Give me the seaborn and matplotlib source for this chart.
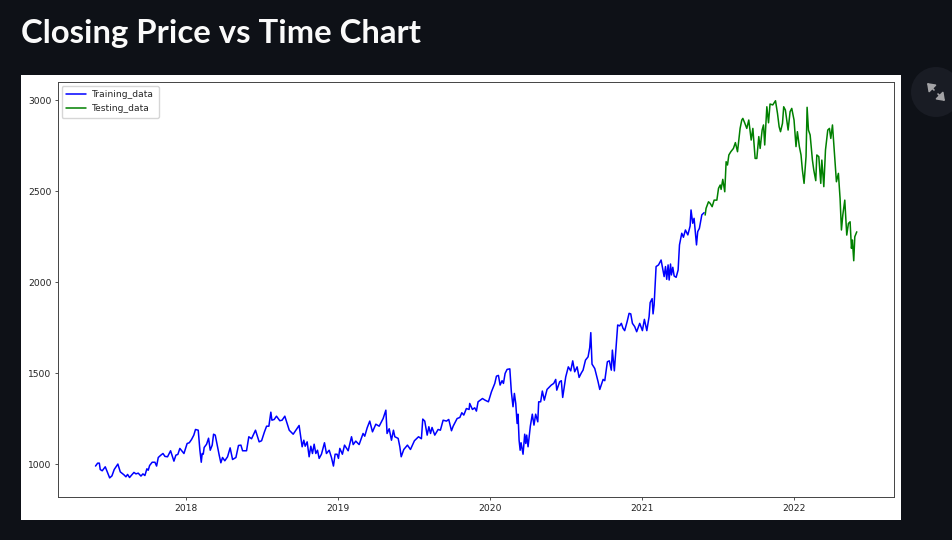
import matplotlib
matplotlib.use("Agg")
import matplotlib.pyplot as plt
import matplotlib.dates as mdates
from matplotlib.patches import Ellipse, FancyArrowPatch, Rectangle
import pandas as pd
import seaborn as sns

# values, dates as fractional years
train_years = [
    2017.405, 2017.419, 2017.43, 2017.436, 2017.449, 2017.469, 2017.482, 2017.498, 2017.513, 2017.528,
    2017.552, 2017.568, 2017.592, 2017.605, 2017.616, 2017.629, 2017.642, 2017.658, 2017.671, 2017.686,
    2017.704, 2017.717, 2017.73, 2017.743, 2017.752, 2017.761, 2017.778, 2017.796, 2017.807, 2017.818,
    2017.835, 2017.849, 2017.862, 2017.879, 2017.899, 2017.921, 2017.934, 2017.947, 2017.96, 2017.987,
    2018.008, 2018.022, 2018.037, 2018.052, 2018.063, 2018.081, 2018.092, 2018.101, 2018.107, 2018.114,
    2018.12, 2018.136, 2018.149, 2018.16, 2018.173, 2018.182, 2018.193, 2018.208, 2018.219, 2018.23,
    2018.241, 2018.256, 2018.274, 2018.291, 2018.307, 2018.329, 2018.346, 2018.362, 2018.373, 2018.399,
    2018.414, 2018.432, 2018.458, 2018.482, 2018.498, 2018.517, 2018.531, 2018.546, 2018.559, 2018.566,
    2018.581, 2018.596, 2018.618, 2018.633, 2018.651, 2018.68, 2018.706, 2018.745, 2018.765, 2018.776,
    2018.785, 2018.798, 2018.811, 2018.822, 2018.833, 2018.844, 2018.855, 2018.866, 2018.877, 2018.892,
    2018.912, 2018.925, 2018.943, 2018.958, 2018.971, 2018.982, 2018.995, 2019.004, 2019.013, 2019.03,
    2019.044, 2019.068, 2019.09, 2019.101, 2019.118, 2019.14, 2019.166, 2019.177, 2019.193, 2019.21,
    2019.228, 2019.25, 2019.272, 2019.298, 2019.316, 2019.324, 2019.338, 2019.353, 2019.366, 2019.375,
    2019.397, 2019.408, 2019.417, 2019.434, 2019.458, 2019.478, 2019.504, 2019.531, 2019.55, 2019.559,
    2019.572, 2019.588, 2019.599, 2019.61, 2019.62, 2019.638, 2019.66, 2019.675, 2019.693, 2019.715,
    2019.73, 2019.748, 2019.759, 2019.785, 2019.803, 2019.816, 2019.829, 2019.846, 2019.864, 2019.868,
    2019.886, 2019.901, 2019.912, 2019.923, 2019.952, 2019.969, 2019.991, 2020.011, 2020.033, 2020.044,
    2020.057, 2020.068, 2020.081, 2020.09, 2020.101, 2020.114, 2020.132, 2020.142, 2020.153, 2020.162,
    2020.171, 2020.18, 2020.186, 2020.193, 2020.2, 2020.206, 2020.219, 2020.23, 2020.237, 2020.243,
    2020.252, 2020.267, 2020.28, 2020.291, 2020.302, 2020.316, 2020.322, 2020.335, 2020.346, 2020.359,
    2020.377, 2020.405, 2020.421, 2020.434, 2020.441, 2020.46, 2020.471, 2020.48, 2020.5, 2020.517,
    2020.533, 2020.546, 2020.559, 2020.575, 2020.588, 2020.603, 2020.614, 2020.63, 2020.647, 2020.658,
    2020.665, 2020.673, 2020.691, 2020.713, 2020.724, 2020.746, 2020.757, 2020.774, 2020.787, 2020.8,
    2020.807, 2020.82, 2020.829, 2020.842, 2020.855, 2020.866, 2020.877, 2020.888, 2020.904, 2020.917,
    2020.928, 2020.939, 2020.954, 2020.967, 2020.987, 2021.002, 2021.015, 2021.031, 2021.046, 2021.053,
    2021.066, 2021.072, 2021.079, 2021.092, 2021.108, 2021.125, 2021.145, 2021.154, 2021.162, 2021.171,
    2021.178, 2021.187, 2021.193, 2021.202, 2021.211, 2021.224, 2021.237, 2021.246, 2021.261, 2021.272,
    2021.285, 2021.301, 2021.316, 2021.322, 2021.333, 2021.342, 2021.358, 2021.366, 2021.377, 2021.393,
    2021.408,
]
train_close = [
    989, 1005, 1005, 970, 963, 985, 957, 924, 935, 970,
    1000, 957, 941, 930, 943, 926, 939, 954, 946, 950,
    934, 946, 937, 974, 966, 992, 1010, 1010, 989, 1036,
    1049, 1058, 1042, 1040, 1073, 1016, 1049, 1053, 1086, 1058,
    1113, 1117, 1135, 1159, 1190, 1186, 1076, 1010, 1058, 1054,
    1091, 1109, 1142, 1076, 1104, 1164, 1159, 1095, 1049, 1007,
    1036, 1018, 1040, 1089, 1025, 1036, 1102, 1104, 1073, 1073,
    1150, 1139, 1186, 1122, 1128, 1177, 1208, 1208, 1285, 1241,
    1245, 1263, 1238, 1241, 1263, 1186, 1164, 1212, 1095, 1131,
    1098, 1122, 1040, 1098, 1058, 1109, 1058, 1076, 1031, 1054,
    1117, 1058, 1076, 1036, 989, 1054, 1054, 1031, 1086, 1054,
    1104, 1073, 1150, 1107, 1126, 1107, 1168, 1153, 1199, 1236,
    1177, 1219, 1208, 1250, 1296, 1168, 1194, 1131, 1186, 1150,
    1141, 1095, 1040, 1080, 1104, 1080, 1128, 1150, 1139, 1247,
    1236, 1159, 1205, 1168, 1201, 1159, 1190, 1186, 1241, 1236,
    1245, 1183, 1208, 1250, 1256, 1282, 1269, 1305, 1300, 1333,
    1300, 1309, 1291, 1342, 1360, 1351, 1342, 1397, 1443, 1483,
    1487, 1434, 1458, 1443, 1498, 1520, 1523, 1397, 1315, 1388,
    1333, 1223, 1274, 1131, 1076, 1117, 1054, 1164, 1113, 1159,
    1095, 1208, 1274, 1214, 1274, 1232, 1342, 1342, 1401, 1351,
    1410, 1434, 1443, 1465, 1406, 1452, 1458, 1366, 1479, 1534,
    1512, 1567, 1507, 1534, 1476, 1501, 1516, 1571, 1589, 1640,
    1722, 1549, 1525, 1452, 1410, 1465, 1458, 1562, 1567, 1516,
    1626, 1512, 1617, 1764, 1759, 1773, 1746, 1733, 1782, 1828,
    1825, 1773, 1755, 1727, 1773, 1733, 1795, 1733, 1810, 1887,
    1909, 1825, 1874, 2085, 2094, 2121, 2030, 2085, 2015, 2094,
    2011, 2099, 2039, 2081, 2033, 2026, 2066, 2204, 2268, 2246,
    2286, 2259, 2308, 2396, 2323, 2350, 2204, 2277, 2295, 2369,
    2381,
]
test_years = [
    2021.415, 2021.421, 2021.437, 2021.448, 2021.461, 2021.474, 2021.492, 2021.503, 2021.514, 2021.52,
    2021.531, 2021.544, 2021.553, 2021.562, 2021.571, 2021.584, 2021.601, 2021.614, 2021.628, 2021.645,
    2021.656, 2021.663, 2021.674, 2021.689, 2021.702, 2021.718, 2021.729, 2021.744, 2021.755, 2021.768,
    2021.777, 2021.79, 2021.799, 2021.807, 2021.821, 2021.832, 2021.842, 2021.86, 2021.878, 2021.891,
    2021.902, 2021.911, 2021.924, 2021.932, 2021.943, 2021.961, 2021.974, 2021.985, 2022.0, 2022.013,
    2022.022, 2022.035, 2022.046, 2022.055, 2022.066, 2022.079, 2022.086, 2022.095, 2022.106, 2022.121,
    2022.13, 2022.143, 2022.15, 2022.163, 2022.176, 2022.183, 2022.196, 2022.207, 2022.222, 2022.233,
    2022.242, 2022.253, 2022.266, 2022.279, 2022.292, 2022.303, 2022.312, 2022.321, 2022.334, 2022.347,
    2022.358, 2022.369, 2022.378, 2022.384, 2022.393, 2022.4, 2022.413,
]
test_close = [
    2368, 2405, 2441, 2432, 2414, 2450, 2450, 2515, 2533, 2509,
    2564, 2496, 2661, 2643, 2698, 2716, 2734, 2766, 2716, 2844,
    2890, 2899, 2877, 2844, 2890, 2780, 2844, 2679, 2679, 2799,
    2734, 2835, 2863, 2753, 2963, 2875, 2978, 2973, 2996, 2927,
    2853, 2826, 2872, 2963, 2945, 2835, 2936, 2954, 2890, 2744,
    2826, 2744, 2698, 2615, 2542, 2689, 2960, 2835, 2808, 2670,
    2615, 2557, 2698, 2689, 2542, 2670, 2524, 2725, 2835, 2844,
    2789, 2863, 2707, 2551, 2597, 2460, 2286, 2368, 2450, 2258,
    2322, 2331, 2185, 2231, 2117, 2249, 2276,
]
legend_labels = ["Training_data", "Testing_data"]
title_text = "Closing Price vs Time Chart"

PAGE_W, PAGE_H = 952, 540


def to_dates(years):
    # fractional year -> timestamp
    return [pd.Timestamp(year=int(y), month=1, day=1) + pd.Timedelta(days=(y - int(y)) * 365) for y in years]


def box(x0, y0, x1, y1):
    # pixel box (top-left origin) -> figure fractions for add_axes / Rectangle
    return [x0 / PAGE_W, 1 - y1 / PAGE_H, (x1 - x0) / PAGE_W, (y1 - y0) / PAGE_H]


sns.set_style("white")
plt.rcParams["font.family"] = ["DejaVu Sans"]

fig = plt.figure(figsize=(PAGE_W / 100, PAGE_H / 100), dpi=100, facecolor="#0e1117")

# white card the chart sits on, behind the axes
l, b, w, h = box(21, 75, 901, 520)
fig.add_artist(Rectangle((l, b), w, h, transform=fig.transFigure, facecolor="white", edgecolor="none", zorder=-1))

# expand button
fig.add_artist(Ellipse((936 / PAGE_W, 1 - 92 / PAGE_H), 50 / PAGE_W, 50 / PAGE_H,
                       transform=fig.transFigure, facecolor="#191c24", edgecolor="none", zorder=-1))
for tip, tail in [((927, 83), (934, 90)), ((945, 101), (938, 94))]:
    fig.add_artist(FancyArrowPatch((tail[0] / PAGE_W, 1 - tail[1] / PAGE_H), (tip[0] / PAGE_W, 1 - tip[1] / PAGE_H),
                                   transform=fig.transFigure, arrowstyle="-|>,head_length=0.55,head_width=0.4",
                                   color="#a3a3a6", lw=1.2, mutation_scale=8, shrinkA=0, shrinkB=0))

fig.text(21 / PAGE_W, 1 - 33 / PAGE_H, title_text, color="#fafafa", fontsize=23.7, fontweight="bold",
         family=["Lato", "DejaVu Sans"], va="center", ha="left")

ax = fig.add_axes(box(58, 82, 894, 497))
ax.set_facecolor("white")

train_df = pd.DataFrame({"date": to_dates(train_years), "close": train_close})
test_df = pd.DataFrame({"date": to_dates(test_years), "close": test_close})

sns.lineplot(data=train_df, x="date", y="close", color="blue", linewidth=1.1, estimator=None,
             label=legend_labels[0], ax=ax)
sns.lineplot(data=test_df, x="date", y="close", color="green", linewidth=1.1, estimator=None,
             label=legend_labels[1], ax=ax)

ax.set_xlim(to_dates([2017.158])[0], to_dates([2022.658])[0])
ax.set_ylim(819, 3099)
ax.set_yticks([1000, 1500, 2000, 2500, 3000])
ax.xaxis.set_major_locator(mdates.YearLocator())
ax.xaxis.set_major_formatter(mdates.DateFormatter("%Y"))
ax.set_xlabel("")
ax.set_ylabel("")
ax.tick_params(axis="both", labelsize=6.6, length=2.4, width=0.55, pad=2.4, colors="#222222",
               bottom=True, left=True)
for spine in ax.spines.values():
    spine.set_visible(True)
    spine.set_color("#444444")
    spine.set_linewidth(0.7)

ax.legend(loc="upper left", fontsize=6.6, frameon=True, borderaxespad=0.4, labelspacing=0.62,
          handlelength=2.2, handletextpad=0.7, borderpad=0.45)

fig.savefig("out.png", dpi=100, facecolor=fig.get_facecolor())
plt.close(fig)
